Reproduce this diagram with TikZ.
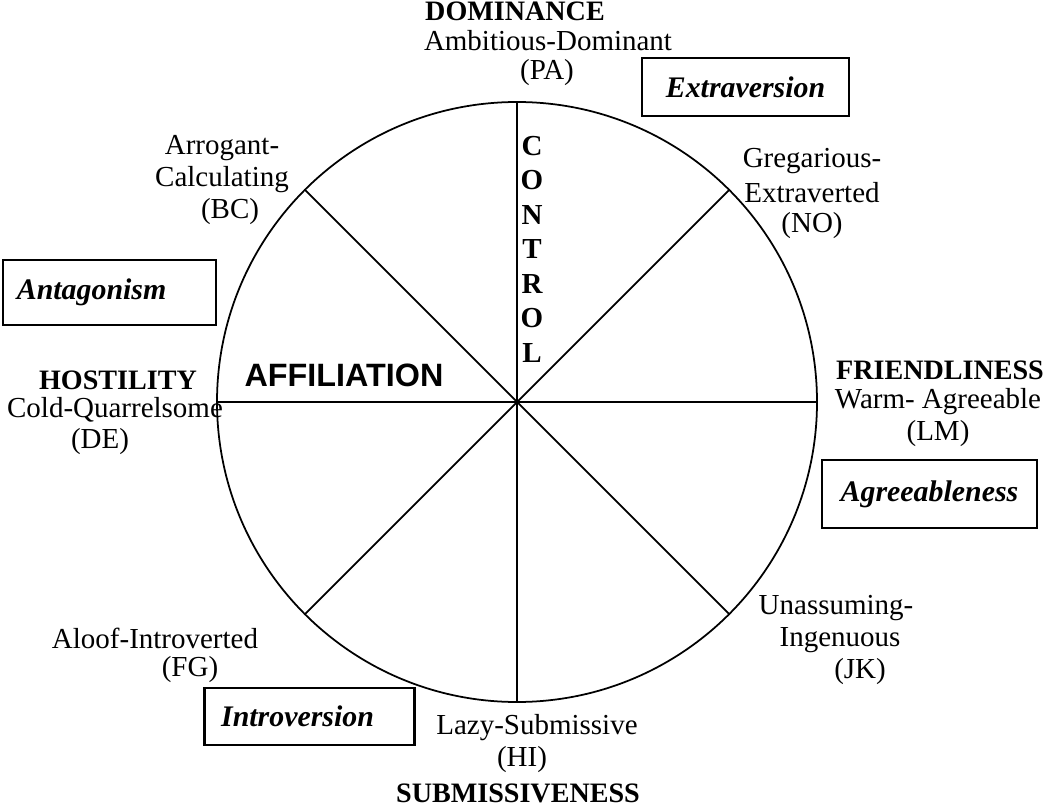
\documentclass[tikz,border=0pt]{standalone}
\usetikzlibrary{calc}
\usepackage{fontspec}
\setmainfont{Liberation Serif}
\setsansfont{Liberation Sans}
\begin{document}
\begin{tikzpicture}[x=0.02cm,y=-0.02cm,
  lbl/.style={font=\fontsize{16.5}{17}\selectfont,inner sep=0pt},
  hd/.style={font=\fontsize{16}{17}\selectfont\bfseries,inner sep=0pt},
  bx/.style={draw,line width=1.2pt,minimum width=4.15cm,minimum height=1.15cm,font=\fontsize{17}{18}\selectfont\bfseries\itshape},
  ln/.style={line width=1pt}]
\useasboundingbox (0,0) rectangle (1050,803);
\coordinate (c) at (517,402);
\draw[ln] (c) circle (300);
\foreach \a/\n in {0/e,45/ne,90/n,135/nw,180/w,225/sw,270/s,315/se}
  \coordinate (p\n) at ($(c)+(\a:300)$);
\draw[ln] (pw) -- (pe);
\draw[ln] (pn) -- (ps);
\draw[ln] (pnw) -- (pse);
\draw[ln] (pne) -- (psw);
\node[bx] (bex) at (745.5,87) {Extraversion};
\node[bx,minimum width=4.25cm,minimum height=1.3cm,anchor=center] (ban) at (109.5,292.5) {\hspace*{-1.2em}Antagonism};
\node[bx,minimum width=4.3cm,minimum height=1.35cm] (bag) at (929.5,494) {Agreeableness};
\node[bx,minimum width=4.2cm] (bin) at (309.5,716.5) {\hspace*{-0.8em}Introversion};
\node[hd] (dom) at (515,11) {DOMINANCE};
\node[lbl] (ad) at (548,41) {Ambitious-Dominant};
\node[lbl] (pa) at (547,73) {(PA)};
\node[lbl] (ac1) at (222,148) {Arrogant-};
\node[lbl] (ac2) at (222,180) {Calculating};
\node[lbl] (bc) at (230,212) {(BC)};
\node[lbl] (ge1) at (812,161) {Gregarious-};
\node[lbl] (ge2) at (812,193) {Extraverted};
\node[lbl] (no) at (812,226) {(NO)};
\node[hd] (fr) at (940,370) {FRIENDLINESS};
\node[lbl] (wa) at (938,402) {Warm- Agreeable};
\node[lbl] (lm) at (938,434) {(LM)};
\node[hd] (ho) at (118,380) {HOSTILITY};
\node[lbl] (cq) at (115,410) {Cold-Quarrelsome};
\node[lbl] (de) at (100,442) {(DE)};
\node[font=\sffamily\bfseries\fontsize{18.4}{19}\selectfont,inner sep=0pt] (af) at (344,375) {AFFILIATION};
\foreach \l [count=\i] in {C,O,N,T,R,O,L}
  \node[hd,font=\fontsize{16.5}{17}\selectfont\bfseries] (ct\i) at (532,{146+(\i-1)*34.5}) {\l};
\node[lbl] (ui1) at (836,608) {Unassuming-};
\node[lbl] (ui2) at (840,640) {Ingenuous};
\node[lbl] (jk) at (860,672) {(JK)};
\node[lbl] (ai) at (155,638) {Aloof-Introverted};
\node[lbl] (fg) at (190,670) {(FG)};
\node[lbl] (ls) at (537,728) {Lazy-Submissive};
\node[lbl] (hi) at (522,760) {(HI)};
\node[hd] (sub) at (518,793) {SUBMISSIVENESS};
\end{tikzpicture}
\end{document}
